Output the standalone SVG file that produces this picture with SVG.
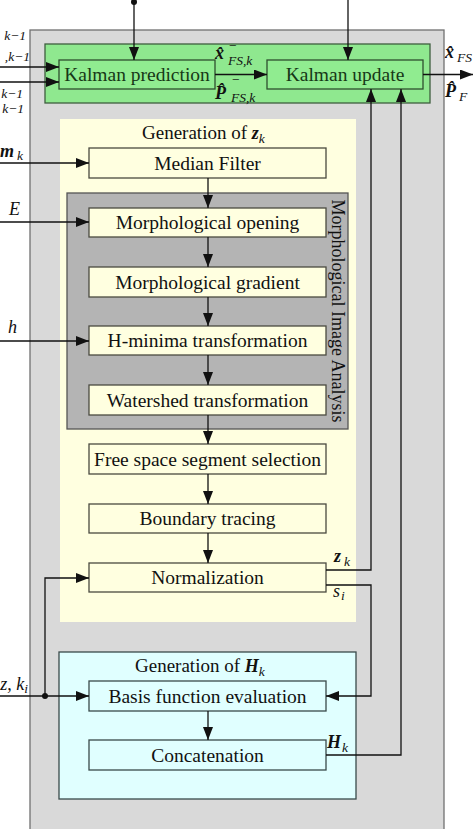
<svg xmlns="http://www.w3.org/2000/svg" width="474" height="829" viewBox="0 0 474 829">
<style>
  .t{font-family:"Liberation Serif","Times New Roman",serif;font-size:19.5px;fill:#111;text-anchor:middle}
  .tk{font-family:"Liberation Serif","Times New Roman",serif;font-size:19.5px;fill:#173817;text-anchor:middle}
  .ti{font-family:"Liberation Serif","Times New Roman",serif;font-size:19px;fill:#111}
  .mv{font-family:"Liberation Serif","Times New Roman",serif;font-size:18px;font-weight:bold;font-style:italic;fill:#111}
  .mi{font-family:"Liberation Serif","Times New Roman",serif;font-size:18px;font-style:italic;fill:#111}
  .sb{font-family:"Liberation Serif","Times New Roman",serif;font-size:13.5px;font-style:italic;fill:#111}
  .box{fill:#ffffe0;stroke:#4a4a40;stroke-width:1.3}
  .cbox{fill:#e0ffff;stroke:#3a4a4a;stroke-width:1.3}
  .kbox{fill:#90ec90;stroke:#2f4f2f;stroke-width:1.3}
  .c{fill:none;stroke:#111;stroke-width:1.3}
</style>
<defs>
  <marker id="ah" markerUnits="userSpaceOnUse" markerWidth="13" markerHeight="10" viewBox="0 0 13 10" refX="13" refY="5" orient="auto">
    <path d="M0,0 L13,5 L0,10 z" fill="#111"/>
  </marker>
</defs>

<g id="outer">
  <rect x="30" y="30" width="414" height="820" fill="#d9d9d9" stroke="#707070" stroke-width="1.3"/>
</g>

<g id="kalman-group">
  <rect x="45" y="44" width="385" height="59" fill="#8fe88f" stroke="#3e5e3e" stroke-width="1.3"/>
</g>
<g id="kalman-prediction">
  <rect class="kbox" x="59" y="60" width="156" height="29"/>
  <text class="tk" x="137" y="81">Kalman prediction</text>
</g>
<g id="kalman-update">
  <rect class="kbox" x="267" y="60" width="156" height="29"/>
  <text class="tk" x="345" y="81">Kalman update</text>
</g>

<g id="gen-z">
  <rect x="60" y="119" width="296" height="503" fill="#ffffe0"/>
  <text class="ti" x="142" y="139">Generation of <tspan class="mv">z</tspan><tspan class="sb" dy="4">k</tspan></text>
</g>

<g id="median-filter">
  <rect class="box" x="89" y="148" width="237" height="30"/>
  <text class="t" x="207.5" y="169.5">Median Filter</text>
</g>

<g id="morph-analysis">
  <rect x="67" y="193" width="281" height="236" fill="#b4b4b4" stroke="#555" stroke-width="1.3"/>
  <text class="t" style="font-size:18px" transform="translate(332,311) rotate(90)">Morphological Image Analysis</text>
</g>

<g id="morph-opening">
  <rect class="box" x="89" y="208" width="237" height="29"/>
  <text class="t" x="207.5" y="229">Morphological opening</text>
</g>
<g id="morph-gradient">
  <rect class="box" x="89" y="267" width="237" height="30"/>
  <text class="t" x="207.5" y="288.5">Morphological gradient</text>
</g>
<g id="h-minima">
  <rect class="box" x="89" y="326" width="237" height="29"/>
  <text class="t" x="207.5" y="347">H-minima transformation</text>
</g>
<g id="watershed">
  <rect class="box" x="89" y="385" width="237" height="30"/>
  <text class="t" x="207.5" y="406.5">Watershed transformation</text>
</g>
<g id="free-space">
  <rect class="box" x="89" y="444" width="237" height="30"/>
  <text class="t" x="207.5" y="465.5">Free space segment selection</text>
</g>
<g id="boundary">
  <rect class="box" x="89" y="504" width="237" height="29"/>
  <text class="t" x="207.5" y="525">Boundary tracing</text>
</g>
<g id="normalization">
  <rect class="box" x="89" y="563" width="237" height="29"/>
  <text class="t" x="207.5" y="584">Normalization</text>
</g>

<g id="gen-h">
  <rect class="cbox" x="59" y="652" width="297" height="147"/>
  <text class="ti" x="135" y="672">Generation of <tspan class="mv">H</tspan><tspan class="sb" dy="4">k</tspan></text>
</g>
<g id="basis">
  <rect class="cbox" x="89" y="681" width="237" height="30"/>
  <text class="t" x="207.5" y="702.5">Basis function evaluation</text>
</g>
<g id="concat">
  <rect class="cbox" x="89" y="740" width="237" height="30"/>
  <text class="t" x="207.5" y="761.5">Concatenation</text>
</g>

<g id="connectors">
  <path class="c" d="M134,2 V60" marker-end="url(#ah)"/>
  <circle cx="134" cy="2" r="3" fill="#111"/>
  <path class="c" d="M348,0 V60" marker-end="url(#ah)"/>
  <path class="c" d="M0,67 H59" marker-end="url(#ah)"/>
  <path class="c" d="M0,82 H59" marker-end="url(#ah)"/>
  <path class="c" d="M215,74.5 H267" marker-end="url(#ah)"/>
  <path class="c" d="M423,74.5 H473" marker-end="url(#ah)"/>
  <path class="c" d="M0,163 H89" marker-end="url(#ah)"/>
  <path class="c" d="M208,178 V208" marker-end="url(#ah)"/>
  <path class="c" d="M0,222 H89" marker-end="url(#ah)"/>
  <path class="c" d="M208,237 V267" marker-end="url(#ah)"/>
  <path class="c" d="M208,297 V326" marker-end="url(#ah)"/>
  <path class="c" d="M0,341 H89" marker-end="url(#ah)"/>
  <path class="c" d="M208,355 V385" marker-end="url(#ah)"/>
  <path class="c" d="M208,415 V444" marker-end="url(#ah)"/>
  <path class="c" d="M208,474 V504" marker-end="url(#ah)"/>
  <path class="c" d="M208,533 V563" marker-end="url(#ah)"/>
  <path class="c" d="M45,696 V578 H89" marker-end="url(#ah)"/>
  <path class="c" d="M0,696 H89" marker-end="url(#ah)"/>
  <circle cx="45" cy="696" r="3" fill="#111"/>
  <path class="c" d="M326,570 H371 V89" marker-end="url(#ah)"/>
  <path class="c" d="M326,585 H371 V696 H326" marker-end="url(#ah)"/>
  <path class="c" d="M326,755 H401 V89" marker-end="url(#ah)"/>
  <path class="c" d="M208,711 V740" marker-end="url(#ah)"/>
</g>

<g id="labels">
  <text class="sb" x="26" y="40" text-anchor="end">k−1</text>
  <text class="sb" x="30" y="61" text-anchor="end">,k−1</text>
  <text class="sb" x="23" y="98" text-anchor="end">k−1</text>
  <text class="sb" x="24" y="113" text-anchor="end">k−1</text>

  <text class="mv" x="215" y="59">x̂</text>
  <text class="sb" x="228" y="50">−</text>
  <text class="sb" x="228" y="65">FS,k</text>
  <text class="mv" x="215" y="99">P̂</text>
  <text class="sb" x="231" y="84">−</text>
  <text class="sb" x="231" y="102">FS,k</text>

  <text class="mv" x="445" y="58">x̂</text>
  <text class="sb" x="457" y="62">FS</text>
  <text class="mv" x="445" y="97">P̂</text>
  <text class="sb" x="459" y="101">F</text>

  <text class="mv" x="0" y="157">m</text>
  <text class="sb" x="17" y="160">k</text>
  <text class="mi" x="9" y="215">E</text>
  <text class="mi" x="8" y="333">h</text>
  <text class="mi" x="28" y="690" text-anchor="end">z, k<tspan class="sb" dy="3">i</tspan></text>

  <text class="mv" x="334" y="562">z</text>
  <text class="sb" x="344" y="566">k</text>
  <text class="mi" x="333" y="597">s</text>
  <text class="sb" x="341" y="600">i</text>
  <text class="mv" x="327" y="748">H</text>
  <text class="sb" x="342" y="752">k</text>
</g>
</svg>
